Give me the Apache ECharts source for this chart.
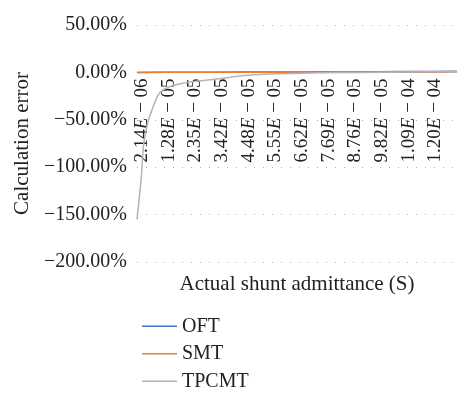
<!DOCTYPE html>
<html>
<head>
<meta charset="utf-8">
<script src="https://cdn.jsdelivr.net/npm/echarts@6/dist/echarts.min.js"></script>
<style>
  html, body { margin: 0; padding: 0; background: #fff; }
  #chart { width: 474px; height: 404px; }
</style>
</head>
<body>
<div id="chart"></div>
<script>
// x tick labels (admittance, S)
var tickLabels = ['2.14E-06', '1.28E-05', '2.35E-05', '3.42E-05', '4.48E-05', '5.55E-05',
                  '6.62E-05', '7.69E-05', '8.76E-05', '9.82E-05', '1.09E-04', '1.20E-04'];
var xMin = 2.14e-6;
var xStep = 1.0667e-5;

// OFT / SMT sampled at the labelled admittances plus the last point
var baseX = [2.14e-6, 1.28e-5, 2.35e-5, 3.42e-5, 4.48e-5, 5.55e-5, 6.62e-5,
             7.69e-5, 8.76e-5, 9.82e-5, 1.09e-4, 1.20e-4, 1.30e-4];
var oftErr = [0, 0.05, 0.1, 0.2, 0.3, 0.4, 0.5, 0.6, 0.7, 0.8, 0.9, 1.0, 1.1];
var smtErr = [0, 0.05, 0.1, 0.15, 0.2, 0.25, 0.3, 0.35, 0.4, 0.45, 0.5, 0.55, 0.6];

// TPCMT, denser near the start
var tpcmtX = [2.14e-6, 3.85e-6, 4.81e-6, 6.62e-6, 8.11e-6, 9.5e-6, 1.142e-5, 1.43e-5,
              1.94e-5, 2.625e-5, 3.265e-5, 3.95e-5, 4.63e-5, 5.97e-5, 7.57e-5,
              9.17e-5, 1.077e-4, 1.30e-4];
var tpcmtErr = [-155, -111, -76, -51, -40, -30, -21, -16, -12, -9, -7.5, -5, -3,
                -1.5, -0.5, 0, 0.5, 1.0];

function pairs(xs, ys) {
    var out = [];
    for (var i = 0; i < xs.length; i++) out.push([xs[i], ys[i]]);
    return out;
}

var font = '"Liberation Serif", "DejaVu Serif", serif';
var gridTop = 25, gridBottom = 142, chartH = 404;
var yMin = -200, yMax = 50;
// lift the x axis from the bottom of the grid to the 0% line
var plotH = chartH - gridTop - gridBottom;
var zeroLift = plotH * (0 - yMin) / (yMax - yMin);

var chart = echarts.init(document.getElementById('chart'));

var option = {
    animation: false,
    color: ['#4472C4', '#ED7D31', '#B4B4B4'],
    textStyle: { fontFamily: font, color: '#222' },
    grid: { left: 137, right: 17, top: gridTop, bottom: gridBottom, containLabel: false, outerBoundsMode: 'none' },
    legend: {
        orient: 'vertical',
        left: 137,
        top: 311,
        height: 90,
        icon: 'rect',
        itemWidth: 35,
        itemHeight: 1.5,
        itemGap: 7,
        textStyle: { fontFamily: font, fontSize: 20, color: '#222', lineHeight: 20.5 },
        data: ['OFT', 'SMT', 'TPCMT']
    },
    xAxis: {
        type: 'value',
        position: 'bottom',
        offset: -zeroLift,
        min: xMin,
        max: xMin + 12 * xStep,
        interval: xStep,
        name: 'Actual shunt admittance (S)',
        nameLocation: 'middle',
        nameGap: 202,
        nameTextStyle: { fontFamily: font, fontSize: 21, color: '#222' },
        axisLine: { onZero: false, lineStyle: { color: '#d9d9d9' } },
        axisTick: { show: false },
        splitLine: { show: false },
        axisLabel: {
            rotate: 90,
            margin: 6,
            fontSize: 19,
            color: '#222',
            fontFamily: font,
            padding: [10, 0, 0, 0],
            showMaxLabel: false,
            formatter: function (v) {
                var i = Math.round((v - xMin) / xStep);
                var s = tickLabels[i];
                if (!s) return '';
                var p = s.split('E-');
                return p[0] + '{i|E} \u2212 ' + p[1];
            },
            rich: {
                i: { fontStyle: 'italic', fontSize: 19, fontFamily: font, color: '#222' }
            }
        }
    },
    yAxis: {
        type: 'value',
        min: yMin,
        max: yMax,
        interval: 50,
        name: 'Calculation error',
        nameLocation: 'middle',
        nameGap: 96,
        nameTextStyle: { fontFamily: font, fontSize: 21, color: '#222' },
        axisLine: { show: false },
        axisTick: { show: false },
        axisLabel: {
            margin: 10,
            fontSize: 20,
            color: '#222',
            fontFamily: font,
            formatter: function (v) {
                return (v < 0 ? '\u2212' : '') + Math.abs(v).toFixed(2) + '%';
            }
        },
        splitLine: { lineStyle: { color: '#b0b0b0', type: [1, 8], width: 1 } }
    },
    series: [
        {
            name: 'OFT', type: 'line', symbol: 'none',
            lineStyle: { width: 1.5 },
            data: pairs(baseX, oftErr)
        },
        {
            name: 'SMT', type: 'line', symbol: 'none',
            lineStyle: { width: 1.5 },
            data: pairs(baseX, smtErr)
        },
        {
            name: 'TPCMT', type: 'line', symbol: 'none', smooth: 0.3,
            lineStyle: { width: 1.5 },
            data: pairs(tpcmtX, tpcmtErr)
        }
    ]
};
chart.setOption(option);
</script>
</body>
</html>
